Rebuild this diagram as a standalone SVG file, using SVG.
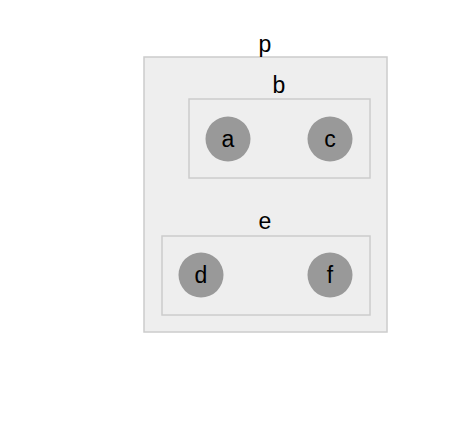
<svg xmlns="http://www.w3.org/2000/svg" width="474" height="424" viewBox="0 0 474 424">
<style>
.cl{fill:#eeeeee;stroke:#cccccc;stroke-width:1.5}
.nd{fill:#999999}
text{font-family:"Liberation Sans",Arial,sans-serif;font-size:23px;fill:#000;text-anchor:middle}
</style>
<rect width="474" height="424" fill="#ffffff"/>
<g id="p"><rect class="cl" x="144" y="57" width="243" height="275"/><text x="265" y="52">p</text></g>
<g id="b"><rect class="cl" x="189" y="99" width="181" height="79"/><text x="279" y="93">b</text></g>
<g id="e"><rect class="cl" x="162" y="236" width="208" height="79"/><text x="265" y="229">e</text></g>
<g id="a"><circle class="nd" cx="228" cy="139" r="22.5"/><text x="228" y="147">a</text></g>
<g id="c"><circle class="nd" cx="330" cy="139" r="22.5"/><text x="330" y="147">c</text></g>
<g id="d"><circle class="nd" cx="201" cy="275" r="22.5"/><text x="201" y="283">d</text></g>
<g id="f"><circle class="nd" cx="330" cy="275" r="22.5"/><text x="330" y="283">f</text></g>
<g id="connectors"></g>
</svg>
